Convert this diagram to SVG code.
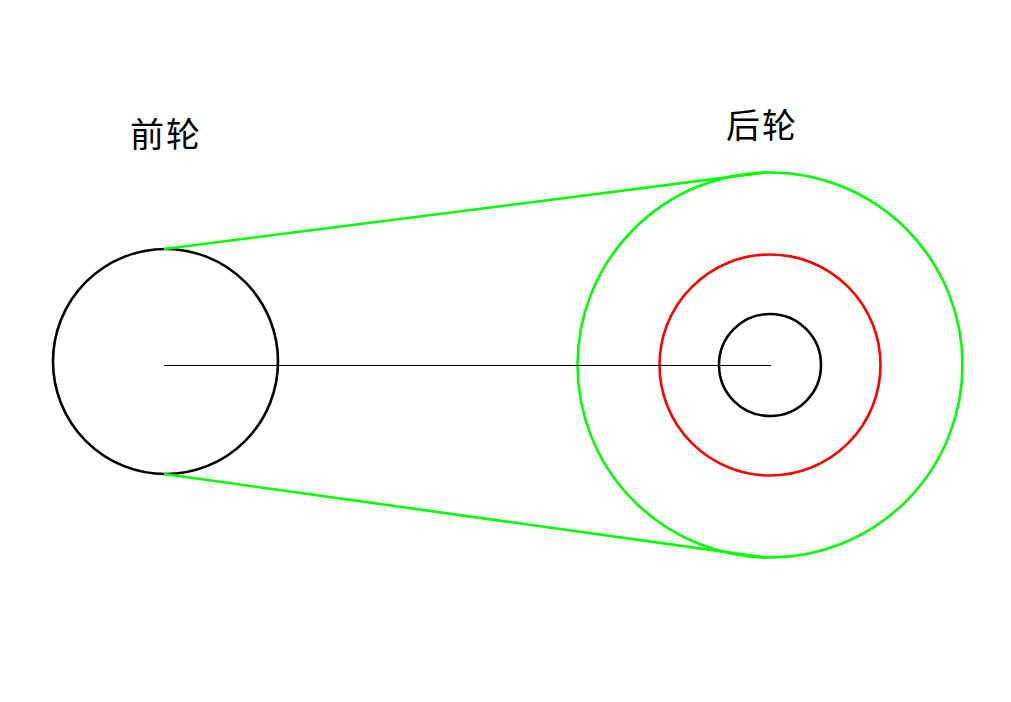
<svg xmlns="http://www.w3.org/2000/svg" width="1011" height="702" viewBox="0 0 1011 702">
<style>
.lbl{font-family:"Liberation Serif","Noto Sans CJK SC",serif;font-size:34px;letter-spacing:2px;fill:#000}
.wheel{fill:none;stroke-width:2.6}
.belt{stroke:#00ff00;stroke-width:2.6;fill:none}
</style>
<rect width="1011" height="702" fill="#fff"/>
<g id="front-wheel">
<circle class="wheel" cx="165.5" cy="361.5" r="112.5" stroke="#000"/>
<text class="lbl" x="130" y="147">前轮</text>
</g>
<g id="rear-wheel">
<circle class="wheel" cx="770" cy="365" r="192.5" stroke="#00ff00"/>
<circle class="wheel" cx="770" cy="365" r="110.5" stroke="#ff0000"/>
<circle class="wheel" cx="770" cy="365" r="51" stroke="#000"/>
<text class="lbl" x="726" y="138">后轮</text>
</g>
<g id="connectors">
<line x1="164" y1="365.5" x2="771" y2="365.5" stroke="#000" stroke-width="1"/>
<line class="belt" x1="164" y1="249" x2="765" y2="172.5"/>
<line class="belt" x1="164" y1="474" x2="765" y2="557.5"/>
</g>
</svg>
